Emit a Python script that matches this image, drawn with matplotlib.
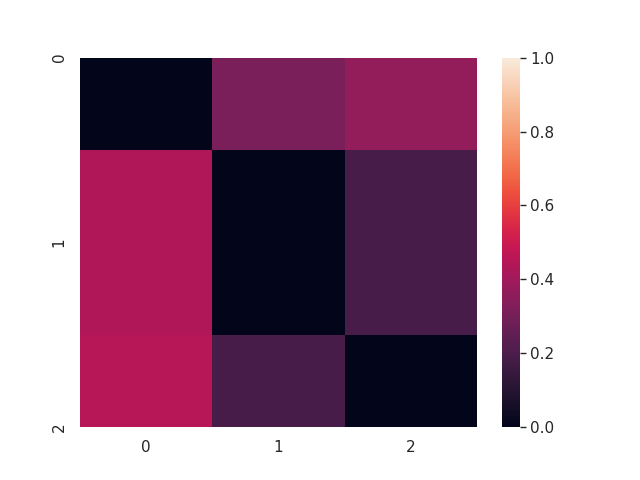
import matplotlib
matplotlib.use("Agg")
import matplotlib.pyplot as plt
import seaborn as sns
import numpy as np

sns.set_theme(style="white")

cols = [0, 1, 2]
rows = [0, 1, 2]
values = [
    [0.00, 0.31, 0.37],
    [0.43, 0.00, 0.19],
    [0.45, 0.19, 0.00],
]

fig, ax = plt.subplots(figsize=(6.4, 4.8), dpi=100)
mesh = ax.pcolormesh(cols, rows, np.array(values), cmap="rocket",
                     vmin=0, vmax=1, shading="nearest")
ax.set_xlim(-0.5, 2.5)
ax.set_ylim(2, 0)
ax.set_xticks(cols)
ax.set_yticks(rows)
ax.set_yticklabels([str(r) for r in rows], rotation=90, va="center")
for s in ax.spines.values():
    s.set_visible(False)

cb = fig.colorbar(mesh, ax=ax)
cb.outline.set_linewidth(0)
cb.ax.tick_params(right=True, length=4, width=1, color="#262626")

plt.savefig("out.png")
plt.close()
